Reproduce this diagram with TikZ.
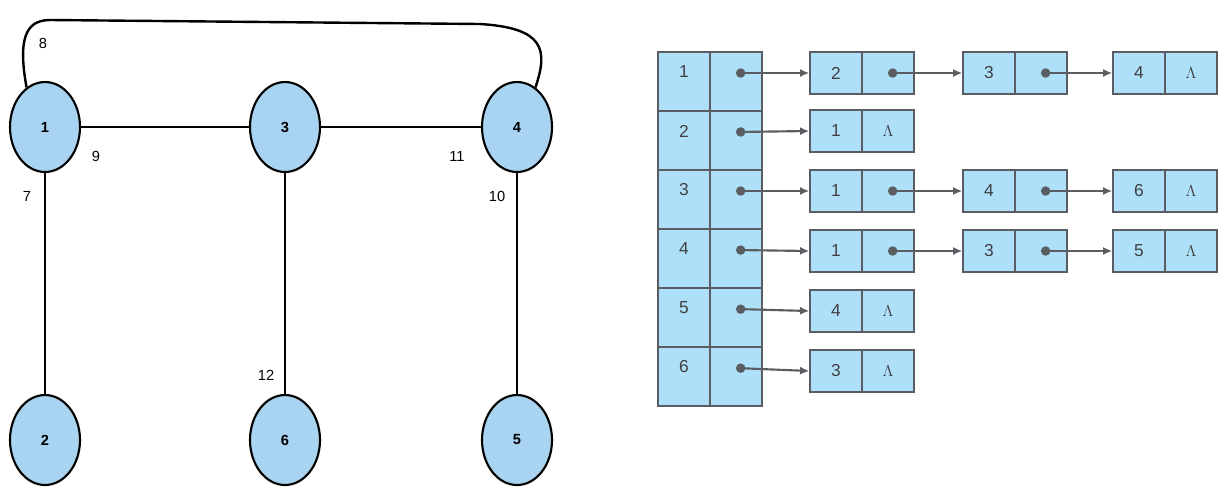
\documentclass[tikz,border=0pt]{standalone}
\usepackage{fontspec}
\setmainfont{Liberation Sans}
\usetikzlibrary{arrows.meta,shapes.geometric}
\definecolor{nodeblue}{HTML}{A8D4F2}
\definecolor{cellblue}{HTML}{AEE0FA}
\definecolor{cellline}{HTML}{5A5E63}
\begin{document}
\begin{tikzpicture}[x=0.75pt,y=-0.75pt,
  vert/.style={ellipse,draw=black,line width=1.6pt,fill=nodeblue,minimum width=70*0.75pt,minimum height=90*0.75pt,inner sep=0pt,font=\fontsize{11}{13}\selectfont\bfseries},
  edge/.style={line width=1.8pt},
  wl/.style={font=\fontsize{11}{13}\selectfont},
  cell/.style={draw=cellline,fill=cellblue,line width=0.9pt,minimum width=52*0.75pt,minimum height=42*0.75pt,inner sep=0pt,font=\fontsize{13}{15}\selectfont,text=black!75},
  tcell/.style={draw=cellline,fill=cellblue,line width=0.9pt,minimum width=52*0.75pt,minimum height=59*0.75pt,inner sep=0pt},
  ptr/.style={draw=cellline,line width=1.6pt,{Circle[length=7pt]}-{Latex[length=7pt,width=6pt]}},
  lbl/.style={font=\fontsize{13}{15}\selectfont,text=black!75}]
\useasboundingbox (0,0) rectangle (1226,494);
% graph
\node[vert] (v1) at (45,127) {1};
\node[vert] (v3) at (285,127) {3};
\node[vert] (v4) at (517,127) {4};
\node[vert] (v2) at (45,440) {2};
\node[vert] (v6) at (285,440) {6};
\node[vert] (v5) at (517,440) {5};
\draw[edge] (v1) -- (v3);
\draw[edge] (v3) -- (v4);
\draw[edge] (v1) -- (v2);
\draw[edge] (v3) -- (v6);
\draw[edge] (v4) -- (v5);
\draw[edge] (v1.115) .. controls (18,40) and (25,20) .. (50,20) -- (480,24) .. controls (545,28) and (548,50) .. (v4.65);
\node[wl] (l8) at (43,43) {8};
\node[wl] (l9) at (96,156) {9};
\node[wl] (l11) at (457,156) {11};
\node[wl] (l7) at (27,196) {7};
\node[wl] (l10) at (497,196) {10};
\node[wl] (l12) at (266,375) {12};
% adjacency list
\foreach \i in {1,...,6}{
  \node[tcell] (a\i) at (684,{52+59*(\i-1)+29.5}) {};
  \node[tcell] (b\i) at (736,{52+59*(\i-1)+29.5}) {};
  \node[lbl] at (684,{52+59*(\i-1)+20}) {\i};
  \coordinate (p\i) at (736,{52+59*(\i-1)+21});
}
\newcommand\lnode[4]{%
  \node[cell] (#1a) at (#2,#3) {#4};
  \node[cell] (#1b) at (#2+52,#3) {};
  \coordinate (#1p) at (#2+52,#3);}
\newcommand\nilnode[4]{%
  \node[cell] (#1a) at (#2,#3) {#4};
  \node[cell] (#1b) at (#2+52,#3) {$\Lambda$};}
% row1
\lnode{r1c1}{836}{73}{2}\lnode{r1c2}{989}{73}{3}\nilnode{r1c3}{1139}{73}{4}
\draw[ptr] (p1) -- (r1c1a.west);
\draw[ptr] (r1c1p) -- (r1c2a.west);
\draw[ptr] (r1c2p) -- (r1c3a.west);
% row2
\nilnode{r2c1}{836}{131}{1}
\draw[ptr] (p2) -- (r2c1a.west);
% row3
\lnode{r3c1}{836}{191}{1}\lnode{r3c2}{989}{191}{4}\nilnode{r3c3}{1139}{191}{6}
\draw[ptr] (p3) -- (r3c1a.west);
\draw[ptr] (r3c1p) -- (r3c2a.west);
\draw[ptr] (r3c2p) -- (r3c3a.west);
% row4
\lnode{r4c1}{836}{251}{1}\lnode{r4c2}{989}{251}{3}\nilnode{r4c3}{1139}{251}{5}
\draw[ptr] (p4) -- (r4c1a.west);
\draw[ptr] (r4c1p) -- (r4c2a.west);
\draw[ptr] (r4c2p) -- (r4c3a.west);
% row5
\nilnode{r5c1}{836}{311}{4}
\draw[ptr] (p5) -- (r5c1a.west);
% row6
\nilnode{r6c1}{836}{371}{3}
\draw[ptr] (p6) -- (r6c1a.west);
\end{tikzpicture}
\end{document}
